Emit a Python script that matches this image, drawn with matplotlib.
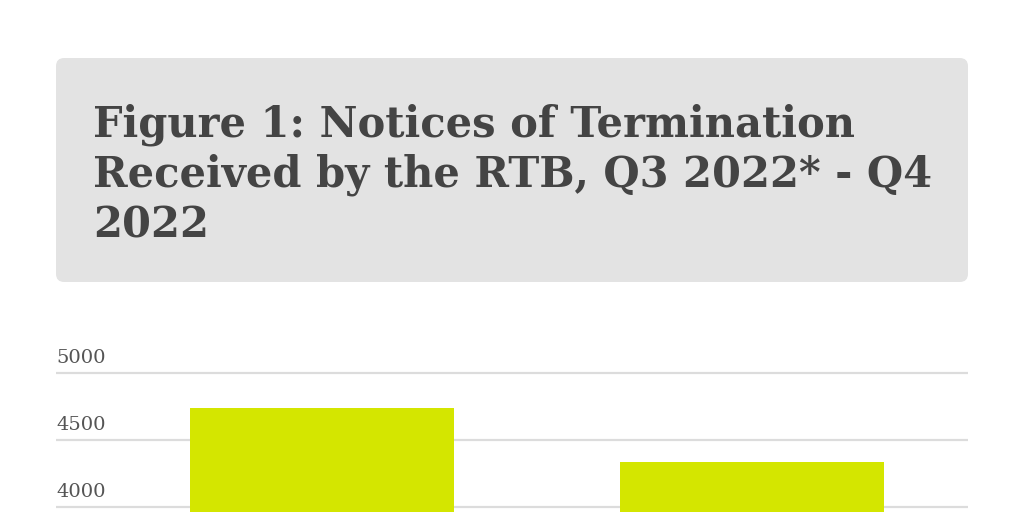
import matplotlib
matplotlib.use("Agg")
import matplotlib.pyplot as plt
from matplotlib.patches import FancyBboxPatch

# =============================================================================
# DATA
# =============================================================================

quarters = ["Q3 2022*", "Q4 2022"]
notices = [4740, 4335]
y_ticks = [0, 500, 1000, 1500, 2000, 2500, 3000, 3500, 4000, 4500, 5000]
title_lines = [
    "Figure 1: Notices of Termination",
    "Received by the RTB, Q3 2022* - Q4",
    "2022",
]

W, H = 1024, 512
BAR_COLOR = "#d4e600"
TEXT_COLOR = "#444444"
GRID_COLOR = "#dcdcdc"
BOX_COLOR = "#e3e3e3"

fig = plt.figure(figsize=(W / 100, H / 100), dpi=100)
fig.patch.set_facecolor("white")

# ── Title box ─────────────────────────────────────────────────────────
box = FancyBboxPatch(
    (56 / W, 1 - 282 / H), 912 / W, 224 / H,
    boxstyle="round,pad=0,rounding_size=0.008",
    transform=fig.transFigure, facecolor=BOX_COLOR, edgecolor="none",
    mutation_aspect=W / H,
)
fig.patches.append(box)

for i, line in enumerate(title_lines):
    fig.text(93 / W, 1 - (137 + 50 * i) / H, line,
             fontsize=30, fontweight="bold", family="DejaVu Serif",
             color=TEXT_COLOR, va="baseline", ha="left")

# ── Bar chart: only the top of the value range fits on the canvas ─────
px_per_unit = 67 / 500          # 500 units between gridlines = 67 px
ax_top_px, ax_bot_px = 370, 512
y_hi = 5000 + (373 - ax_top_px) / px_per_unit
y_lo = 5000 - (ax_bot_px - 373) / px_per_unit

ax = fig.add_axes([56 / W, 1 - ax_bot_px / H, 912 / W,
                   (ax_bot_px - ax_top_px) / H])
ax.bar(range(len(quarters)), notices, width=0.614, color=BAR_COLOR, zorder=2)
ax.set_yticks(y_ticks)
ax.set_xticks(range(len(quarters)))
ax.set_xticklabels(quarters)
ax.set_xlim(-0.619, 1.502)
ax.set_ylim(y_lo, y_hi)
ax.yaxis.grid(True, color=GRID_COLOR, linewidth=1.6, zorder=0)
ax.tick_params(left=False, bottom=False, labelleft=False, labelbottom=False)
for s in ax.spines.values():
    s.set_visible(False)

for v in y_ticks:
    if y_lo <= v <= y_hi:
        ax.annotate(str(v), xy=(0, v), xycoords=("axes fraction", "data"),
                    xytext=(0, 7), textcoords="offset points",
                    ha="left", va="baseline", fontsize=14,
                    family="DejaVu Serif", color="#555555",
                    annotation_clip=False)

fig.savefig("out.png", dpi=100)
